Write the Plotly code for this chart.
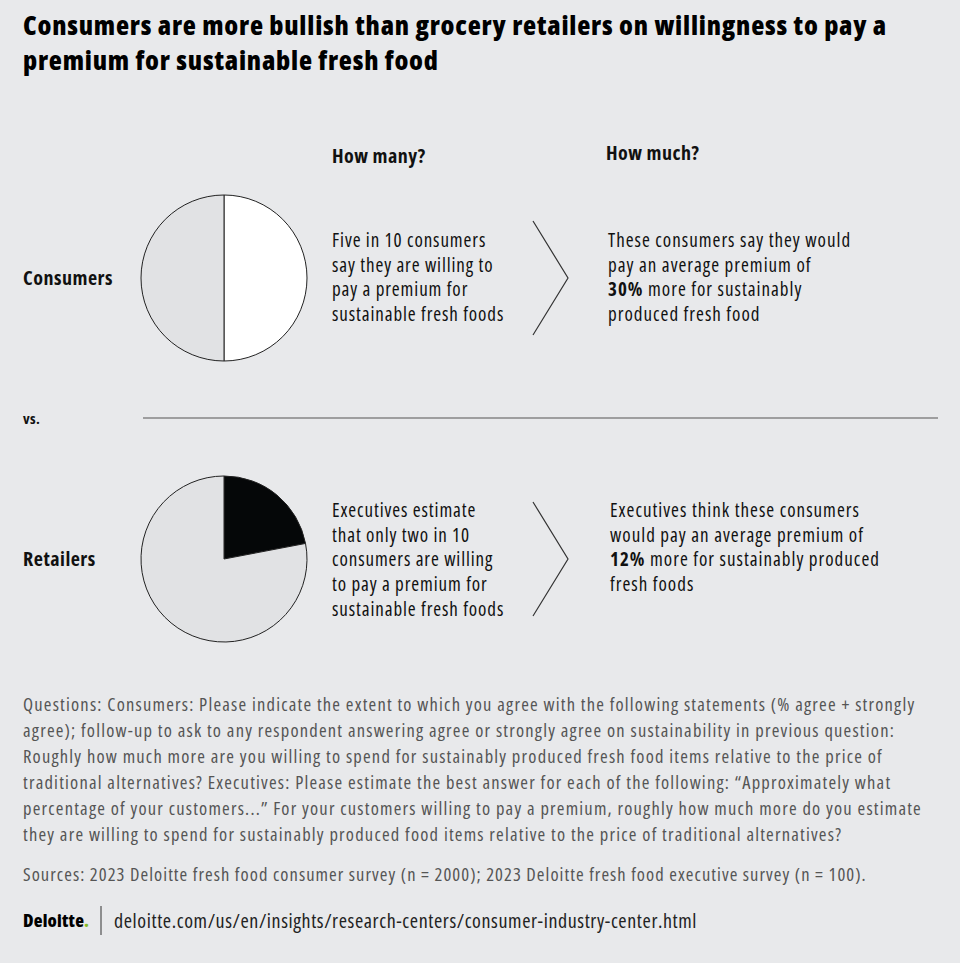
import plotly.graph_objects as go

W, H = 960, 963
BG = "#e8e9eb"
FAM = "Open Sans"

# ---- data ----
pie_groups = ["Consumers", "Retailers"]
pie_labels = ["Willing to pay premium", "Not willing"]
consumer_values = [50, 50]
retailer_values = [22, 78]
consumer_colors = ["#ffffff", "#e1e2e4"]
retailer_colors = ["#050708", "#e1e2e4"]

title_lines = [
    "Consumers are more bullish than grocery retailers on willingness to pay a",
    "premium for sustainable fresh food",
]
col_headers = ["How many?", "How much?"]
consumer_many = ["Five in 10 consumers", "say they are willing to", "pay a premium for", "sustainable fresh foods"]
consumer_much = ["These consumers say they would", "pay an average premium of",
                 "<b>30%</b> more for sustainably", "produced fresh food"]
retailer_many = ["Executives estimate", "that only two in 10", "consumers are willing",
                 "to pay a premium for", "sustainable fresh foods"]
retailer_much = ["Executives think these consumers", "would pay an average premium of",
                 "<b>12%</b> more for sustainably produced", "fresh foods"]
notes = [
    "Questions: Consumers: Please indicate the extent to which you agree with the following statements (% agree + strongly",
    "agree); follow-up to ask to any respondent answering agree or strongly agree on sustainability in previous question:",
    "Roughly how much more are you willing to spend for sustainably produced fresh food items relative to the price of",
    "traditional alternatives? Executives: Please estimate the best answer for each of the following: \u201cApproximately what",
    "percentage of your customers...\u201d For your customers willing to pay a premium, roughly how much more do you estimate",
    "they are willing to spend for sustainably produced food items relative to the price of traditional alternatives?",
]
sources = "Sources: 2023 Deloitte fresh food consumer survey (n = 2000); 2023 Deloitte fresh food executive survey (n = 100)."
url = "deloitte.com/us/en/insights/research-centers/consumer-industry-center.html"

fig = go.Figure()

# invisible pixel-coordinate canvas
fig.add_trace(go.Scatter(x=[0, W], y=[0, H], mode="markers", marker=dict(opacity=0),
                         hoverinfo="skip", showlegend=False))


def dom(x0, x1, y0, y1):
    return dict(x=[x0 / W, x1 / W], y=[1 - y1 / H, 1 - y0 / H])


fig.add_trace(go.Pie(values=consumer_values, labels=pie_labels, sort=False, direction="clockwise",
                     rotation=0, marker=dict(colors=consumer_colors, line=dict(color="#222", width=1)),
                     textinfo="none", hoverinfo="label+percent", showlegend=False,
                     domain=dom(141, 307, 195, 361), name=pie_groups[0]))
fig.add_trace(go.Pie(values=retailer_values, labels=pie_labels, sort=False, direction="clockwise",
                     rotation=0, marker=dict(colors=retailer_colors, line=dict(color="#222", width=1)),
                     textinfo="none", hoverinfo="label+percent", showlegend=False,
                     domain=dom(141, 307, 476, 642), name=pie_groups[1]))

ann = []


def txt(x, y, lines, size=19, color="#111", weight=400, ls=1.0):
    if isinstance(lines, str):
        lines = [lines]
    body = "<br>".join("<span style='font-stretch:75%%;letter-spacing:%.2fpx'>%s</span>" % (ls, s)
                       for s in lines)
    ann.append(dict(x=x, y=y, xref="x", yref="y", text=body, align="left",
                    showarrow=False, xanchor="left", yanchor="middle",
                    font=dict(family=FAM, size=size, color=color, weight=weight)))


# title
txt(21, 42, title_lines, size=27, color="#000", weight=800, ls=0.8)

# column headers
txt(330, 155, col_headers[0], size=20, weight=700, ls=0.5)
txt(604, 152, col_headers[1], size=20, weight=700, ls=0.5)

# row labels
txt(21, 277, pie_groups[0], size=20, weight=700, ls=0.5)
txt(21, 558, pie_groups[1], size=20, weight=700, ls=0.5)
txt(21, 418, "vs.", size=15, weight=700, ls=0.4)

# text blocks
txt(330, 277, consumer_many, ls=0.9)
txt(606, 277, consumer_much, ls=1.0)
txt(330, 559, retailer_many, ls=0.9)
txt(608, 547, retailer_much, ls=1.0)

for i, s in enumerate(notes):
    txt(21, 703 + 26 * i, s, size=18.5, color="#555", ls=1.2)
txt(21, 873, sources, size=18.5, color="#555", ls=1.05)

txt(21, 920, "Deloitte<span style='color:#86bc25'>.</span>", size=18, color="#000", weight=800, ls=0.2)
txt(112, 920, url, size=20, color="#222", ls=0.6)

shapes = [
    dict(type="line", xref="x", yref="y", x0=143, x1=938, y0=418, y1=418,
         line=dict(color="#555", width=1.2)),
    dict(type="path", xref="x", yref="y", path="M 533 221 L 568 278 L 533 335",
         line=dict(color="#333", width=1.2)),
    dict(type="path", xref="x", yref="y", path="M 533 502 L 568 559 L 533 616",
         line=dict(color="#333", width=1.2)),
    dict(type="line", xref="x", yref="y", x0=101, x1=101, y0=906, y1=935,
         line=dict(color="#333", width=1)),
]

fig.update_layout(
    width=W, height=H, margin=dict(l=0, r=0, t=0, b=0),
    paper_bgcolor=BG, plot_bgcolor=BG,
    xaxis=dict(range=[0, W], visible=False, fixedrange=True),
    yaxis=dict(range=[H, 0], visible=False, fixedrange=True),
    annotations=ann, shapes=shapes, showlegend=False,
)

fig.write_html("out.html")
